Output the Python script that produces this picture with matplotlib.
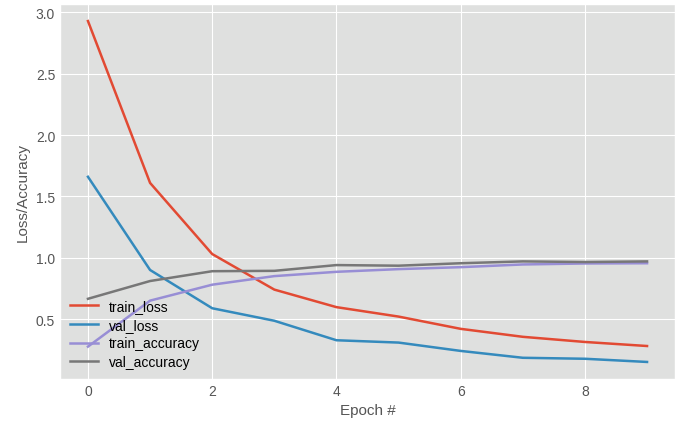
import matplotlib

matplotlib.use("Agg")
import matplotlib.pyplot as plt
import numpy as np

epochs = np.arange(0, 10)
train_loss = [2.93, 1.61, 1.03, 0.74, 0.597, 0.52, 0.42, 0.355, 0.313, 0.28]
val_loss = [1.66, 0.90, 0.588, 0.486, 0.327, 0.308, 0.24, 0.184, 0.176, 0.15]
train_accuracy = [0.275, 0.65, 0.78, 0.85, 0.885, 0.907, 0.923, 0.945, 0.953, 0.955]
val_accuracy = [0.665, 0.81, 0.89, 0.893, 0.94, 0.935, 0.955, 0.97, 0.965, 0.97]

plt.style.use("ggplot")
plt.rcParams["font.family"] = ["Liberation Sans", "DejaVu Sans"]

fig = plt.figure(figsize=(6.85, 4.31), dpi=100)
ax = fig.add_axes([60 / 685, 51 / 431, 615 / 685, 375 / 431])
ax.set_facecolor("#dfe0df")

ax.plot(epochs, train_loss, label="train_loss", lw=1.8)
ax.plot(epochs, val_loss, label="val_loss", lw=1.8)
ax.plot(epochs, train_accuracy, label="train_accuracy", lw=1.8)
ax.plot(epochs, val_accuracy, label="val_accuracy", lw=1.8)

ax.set_xlabel("Epoch #", fontsize=11, color="#555555")
ax.set_ylabel("Loss/Accuracy", fontsize=11, color="#555555")
ax.tick_params(labelsize=10, length=0)
ax.legend(loc="lower left", frameon=False, fontsize=10, labelspacing=0.35,
          borderaxespad=0.3)

fig.savefig("out.png", dpi=100)
